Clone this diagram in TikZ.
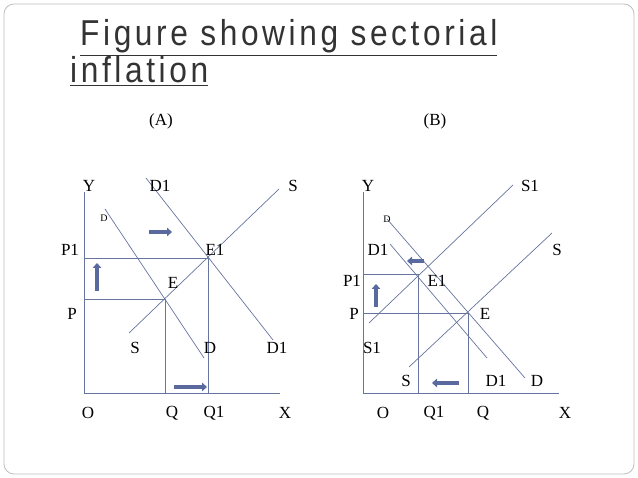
\documentclass[tikz,border=0pt]{standalone}
\usepackage{fontspec}
\setmainfont{Liberation Serif}
\newfontfamily\titlefont[LetterSpace=10,FakeStretch=0.88]{Liberation Sans}
\usetikzlibrary{arrows.meta}
\definecolor{ln}{HTML}{66749E}
\definecolor{arr}{HTML}{5A6A9E}
\tikzset{
  ax/.style={draw=ln, line width=0.7pt},
  cv/.style={draw=ln, line width=0.7pt},
  lb/.style={font=\fontsize{17}{17}\selectfont, inner sep=0pt},
  sm/.style={font=\fontsize{10}{10}\selectfont, inner sep=0pt},
  fat/.style={draw=arr, fill=arr, line width=3.4pt, -{Triangle[length=5pt,width=8.5pt]}},
}
\begin{document}
\begin{tikzpicture}[x=1pt,y=-1pt]
\useasboundingbox (0,0) rectangle (638,478);
\draw[gray!50, rounded corners=10pt, line width=0.8pt] (4,4) rectangle (634,474);
% title
\node[anchor=base west, inner sep=0pt, text=black!80, font=\titlefont\fontsize{36}{36}\selectfont] (t1) at (80,46) {\underline{Figure showing sectorial}};
\node[anchor=base west, inner sep=0pt, text=black!80, font=\titlefont\fontsize{36}{36}\selectfont] (t2) at (70,83) {\underline{inflation}};
\node[lb] (la) at (161,121) {(A)};
\node[lb] (lbb) at (435,121) {(B)};
% ===== Panel A
\coordinate (oa) at (84,393);
\coordinate (ya) at (84,192);
\coordinate (xa) at (280,393);
\draw[ax] (ya) -- (oa) -- (xa);
\coordinate (d0) at (105,209); \coordinate (d1) at (204,358);
\coordinate (e0) at (146,178); \coordinate (e1) at (273,340);
\coordinate (s0) at (129,333); \coordinate (s1) at (279,189);
\draw[cv] (d0) -- (d1);
\draw[cv] (e0) -- (e1);
\draw[cv] (s0) -- (s1);
\coordinate (EA) at (165,299); \coordinate (E1A) at (208,258);
\draw[cv] (84,258) -- (E1A) -- (208,393);
\draw[cv] (84,299) -- (EA) -- (165,393);
\draw[fat] (149,232) -- (172,232);
\draw[fat] (97,291) -- (97,263);
\draw[fat] (174,387) -- (207,387);
\node[lb] at (89,186) {Y};
\node[lb] at (160,186) {D1};
\node[lb] at (293,186) {S};
\node[sm] at (104,218) {D};
\node[lb] at (70,250) {P1};
\node[lb] at (215,250) {E1};
\node[lb] at (173,283) {E};
\node[lb] at (72,314) {P};
\node[lb] at (135,348) {S};
\node[lb] at (210,348) {D};
\node[lb] at (277,348) {D1};
\node[lb] at (88,413) {O};
\node[lb] at (172,413) {Q};
\node[lb] at (214,413) {Q1};
\node[lb] at (285,413) {X};
% ===== Panel B
\coordinate (ob) at (363,393);
\draw[ax] (363,192) -- (ob) -- (559,393);
\draw[cv] (369,323) -- (513,185);
\draw[cv] (409,367) -- (552,233);
\draw[cv] (387,219) -- (525,378);
\draw[cv] (390,244) -- (487,358);
\coordinate (E1B) at (418,274); \coordinate (EB) at (468,313);
\draw[cv] (363,274) -- (E1B) -- (418,393);
\draw[cv] (363,313) -- (EB) -- (468,393);
\draw[fat] (424,261) -- (407,261);
\draw[fat] (376,307) -- (376,284);
\draw[fat] (459,383) -- (432,383);
\node[lb] at (368,186) {Y};
\node[lb] at (530,186) {S1};
\node[sm] at (387,219) {D};
\node[lb] at (378,250) {D1};
\node[lb] at (557,250) {S};
\node[lb] at (352,281) {P1};
\node[lb] at (437,281) {E1};
\node[lb] at (354,314) {P};
\node[lb] at (485,314) {E};
\node[lb] at (372,348) {S1};
\node[lb] at (406,381) {S};
\node[lb] at (496,381) {D1};
\node[lb] at (537,381) {D};
\node[lb] at (383,413) {O};
\node[lb] at (434,413) {Q1};
\node[lb] at (483,413) {Q};
\node[lb] at (565,413) {X};
\end{tikzpicture}
\end{document}
